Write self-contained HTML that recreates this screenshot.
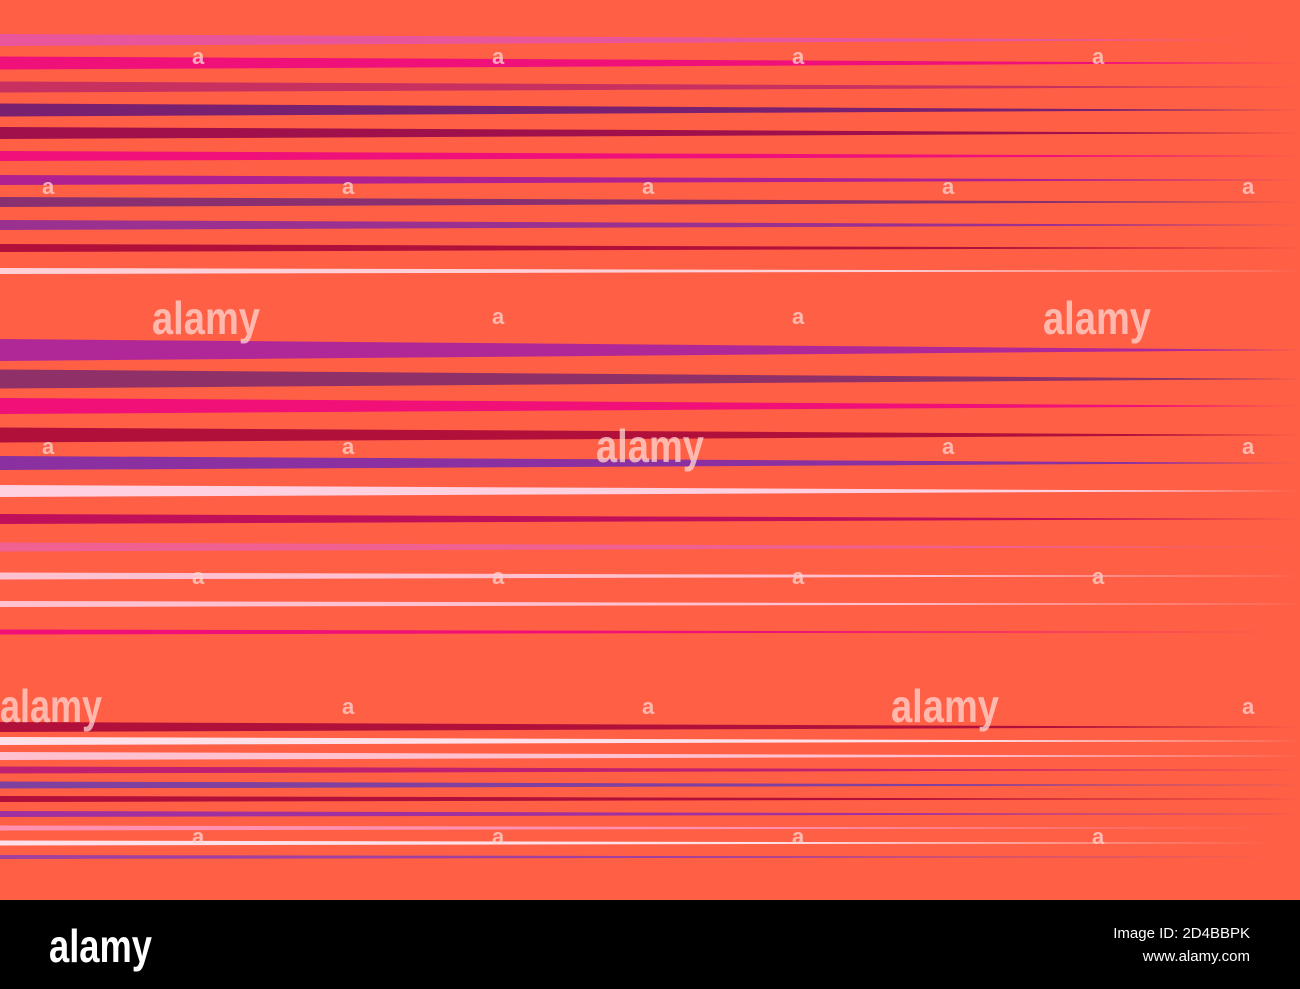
<!DOCTYPE html>
<html><head><meta charset="utf-8"><style>
html,body{margin:0;padding:0;width:1300px;height:989px;overflow:hidden;background:#FF5F45}
svg{display:block}
</style></head><body>
<svg width="1300" height="989" viewBox="0 0 1300 989" xmlns="http://www.w3.org/2000/svg">
<rect width="1300" height="900" fill="#FF5F45"/>
<polygon fill="#E8559A" points="0,34 1240,40 0,46"/>
<polygon fill="#F0107A" points="0,56.5 1300,63 0,69.5"/>
<polygon fill="#C83060" points="0,81.5 1300,87 0,92.5"/>
<polygon fill="#7A2070" points="0,103.5 1300,110 0,116.5"/>
<polygon fill="#A0104A" points="0,127 1300,133 0,139"/>
<polygon fill="#F0107A" points="0,151 1300,156 0,161"/>
<polygon fill="#B02090" points="0,175 1300,180 0,185"/>
<polygon fill="#8A3070" points="0,197 1300,202 0,207"/>
<polygon fill="#9A3090" points="0,220 1300,225 0,230"/>
<polygon fill="#B0103A" points="0,244 1300,248 0,252"/>
<polygon fill="#FFD0D8" points="0,268 1300,271 0,274"/>
<polygon fill="#B02898" points="0,339 1300,350 0,361"/>
<polygon fill="#903068" points="0,369.5 1300,379 0,388.5"/>
<polygon fill="#F01078" points="0,398 1300,406 0,414"/>
<polygon fill="#B0103A" points="0,427.5 1300,435 0,442.5"/>
<polygon fill="#8A30A0" points="0,456 1300,463 0,470"/>
<polygon fill="#FFD0E0" points="0,485 1300,491 0,497"/>
<polygon fill="#C0105A" points="0,514 1300,519 0,524"/>
<polygon fill="#F06090" points="0,542.5 1300,547 0,551.5"/>
<polygon fill="#FFC0D0" points="0,572.5 1300,576 0,579.5"/>
<polygon fill="#FFC0D0" points="0,601 1300,604 0,607"/>
<polygon fill="#F01078" points="0,629.5 1300,632 0,634.5"/>
<polygon fill="#B0103A" points="0,722 1300,727 0,732"/>
<polygon fill="#FFE0E8" points="0,737 1300,741 0,745"/>
<polygon fill="#FFC0D0" points="0,752 1300,756 0,760"/>
<polygon fill="#C02070" points="0,766.5 1300,770 0,773.5"/>
<polygon fill="#8040A0" points="0,781.5 1300,785 0,788.5"/>
<polygon fill="#B0103A" points="0,796 1300,799 0,802"/>
<polygon fill="#A030A0" points="0,811 1300,814 0,817"/>
<polygon fill="#FF90B0" points="0,825.5 1300,828 0,830.5"/>
<polygon fill="#FFE0E8" points="0,840.5 1300,843 0,845.5"/>
<polygon fill="#A040A0" points="0,855 1300,857 0,859"/>
<g font-family="Liberation Sans, sans-serif" font-weight="bold" fill="#FFD6D0" fill-opacity="0.75" font-size="46">
<text x="152" y="334" textLength="108" lengthAdjust="spacingAndGlyphs">alamy</text>
<text x="1043" y="334" textLength="108" lengthAdjust="spacingAndGlyphs">alamy</text>
<text x="596" y="462" textLength="108" lengthAdjust="spacingAndGlyphs">alamy</text>
<text x="0" y="722" textLength="102" lengthAdjust="spacingAndGlyphs">alamy</text>
<text x="891" y="722" textLength="108" lengthAdjust="spacingAndGlyphs">alamy</text>
</g>
<g font-family="Liberation Sans, sans-serif" font-weight="bold" fill="#FFD6D0" fill-opacity="0.75" font-size="22">
<text x="192" y="64">a</text><text x="492" y="64">a</text><text x="792" y="64">a</text><text x="1092" y="64">a</text>
<text x="42" y="194">a</text><text x="342" y="194">a</text><text x="642" y="194">a</text><text x="942" y="194">a</text><text x="1242" y="194">a</text>
<text x="492" y="324">a</text><text x="792" y="324">a</text>
<text x="42" y="454">a</text><text x="342" y="454">a</text><text x="942" y="454">a</text><text x="1242" y="454">a</text>
<text x="192" y="584">a</text><text x="492" y="584">a</text><text x="792" y="584">a</text><text x="1092" y="584">a</text>
<text x="342" y="714">a</text><text x="642" y="714">a</text><text x="1242" y="714">a</text>
<text x="192" y="844">a</text><text x="492" y="844">a</text><text x="792" y="844">a</text><text x="1092" y="844">a</text>
</g>
<rect y="900" width="1300" height="89" fill="#000"/>
<text x="49" y="962" font-family="Liberation Sans, sans-serif" font-weight="bold" font-size="46" fill="#fff" textLength="103" lengthAdjust="spacingAndGlyphs">alamy</text>
<text x="1250" y="938" text-anchor="end" font-family="Liberation Sans, sans-serif" font-size="15" fill="#fff">Image ID: 2D4BBPK</text>
<text x="1250" y="961" text-anchor="end" font-family="Liberation Sans, sans-serif" font-size="15" fill="#fff">www.alamy.com</text>
</svg>
</body></html>
